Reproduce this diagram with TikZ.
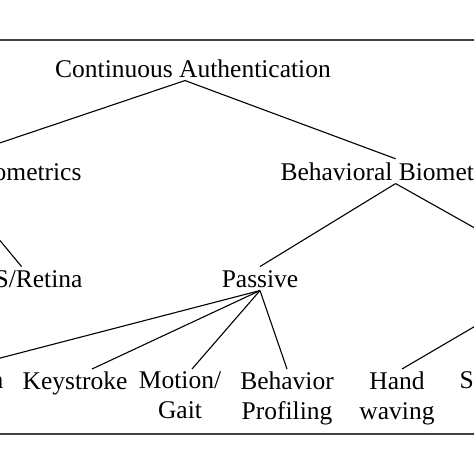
\documentclass[tikz,border=0pt]{standalone}
\usepackage{fontspec}
\setmainfont{Liberation Serif}
\usetikzlibrary{positioning,calc}

\begin{document}
\begin{tikzpicture}[x=1pt, y=-1pt, line width=1.1pt,
    font=\fontsize{25.5}{30}\selectfont,
    every node/.style={inner sep=3pt},
    branch/.style={text depth=0pt},
    leaf/.style={align=center, anchor=north, inner sep=2pt}]
    \useasboundingbox (0,0) rectangle (474,474);
    \clip (0,0) rectangle (474,474);
    % frame (only top and bottom edges fall inside)
    \draw[black!75, line width=1.2pt] (-20,40) rectangle (494,434);

    \node [branch, anchor=base] (CA) at (193,77) {Continuous Authentication};
    \node [branch, anchor=base east] (PB) at (85,180) {Physiological Biometrics};
    \node [branch, anchor=base west] (BB) at (277,180) {Behavioral Biometrics};
    \node [branch, anchor=base east] (IR) at (86,287) {IRIS/Retina};
    \node [branch, anchor=base] (PA) at (260,287) {Passive};
    \node [minimum height=27pt, inner sep=0pt] (AC) at (536,276.5) {};

    \node [leaf] (LO) at (-42,369) {Location};
    \node [leaf] (KS) at (75,369) {Keystroke};
    \node [leaf] (MG) at (180,369) {Motion/\\Gait};
    \node [leaf] (BP) at (287,369) {Behavior\\Profiling};
    \node [leaf] (HW) at (397,369) {Hand\\waving};
    \node [leaf, anchor=north west] (SG) at (457,369) {Signature};

    \draw ([xshift=-8]CA.south) -- (PB.north);
    \draw ([xshift=-8]CA.south) -- (BB.north);
    \draw (PB.south) -- (IR.north);
    \draw (BB.south) -- (PA.north);
    \draw (BB.south) -- (AC.north);
    \foreach \leaf/\dx in {LO/0, KS/17, MG/12, BP/0}
        \draw (PA.south) -- ([xshift=\dx]\leaf.north);
    \draw (AC.south) -- ([xshift=5]HW.north);
    \draw (AC.south) -- (SG.north);
\end{tikzpicture}
\end{document}
